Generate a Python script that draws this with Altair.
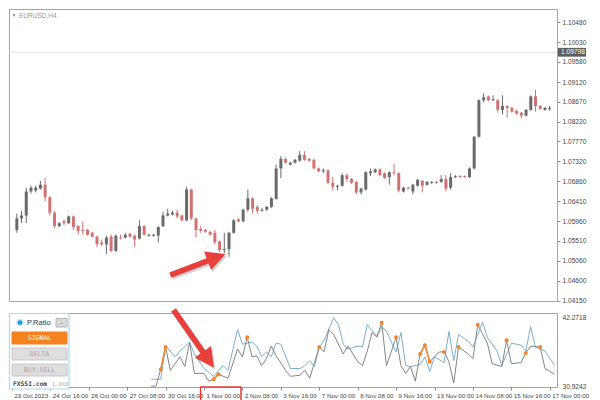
import json
import altair as alt
import pandas as pd

# ---------------- data (EURUSD H4 candles) ----------------
opens = [1.05759, 1.06021, 1.06087, 1.06633, 1.06655, 1.06698, 1.06786, 1.06502, 1.06152, 1.05846,
         1.05956, 1.05912, 1.06065, 1.05846, 1.05759, 1.05759, 1.05694, 1.05606, 1.05475, 1.05432,
         1.05606, 1.05279, 1.05584, 1.05584, 1.05672, 1.05628, 1.05563, 1.05846, 1.05628, 1.05628,
         1.05628, 1.05846, 1.06087, 1.06109, 1.06152, 1.06087, 1.05978, 1.06676, 1.06021, 1.05781,
         1.05759, 1.05715, 1.05694, 1.05497, 1.05300, 1.05322, 1.05694, 1.05999, 1.05956, 1.06218,
         1.06480, 1.06283, 1.06196, 1.06218, 1.06283, 1.06458, 1.07157, 1.07375, 1.07244, 1.07288,
         1.07332, 1.07463, 1.07375, 1.07353, 1.07157, 1.07091, 1.07113, 1.06829, 1.06742, 1.06764,
         1.07004, 1.06917, 1.06851, 1.06611, 1.06676, 1.07048, 1.07070, 1.07135, 1.07048, 1.06960,
         1.07070, 1.07048, 1.06633, 1.06720, 1.06633, 1.06764, 1.06873, 1.06786, 1.06829, 1.06851,
         1.06851, 1.06917, 1.06720, 1.06960, 1.06982, 1.06982, 1.06960, 1.07157, 1.07878, 1.08708,
         1.08795, 1.08708, 1.08708, 1.08489, 1.08576, 1.08533, 1.08467, 1.08424, 1.08358, 1.08489,
         1.08795, 1.08576, 1.08489, 1.08511]
highs = [1.06130, 1.06196, 1.06720, 1.06764, 1.06764, 1.06873, 1.06938, 1.06524, 1.06196, 1.05934,
         1.05999, 1.06087, 1.06087, 1.05868, 1.05956, 1.05781, 1.05715, 1.05628, 1.05541, 1.05628,
         1.05650, 1.05650, 1.05650, 1.05694, 1.05694, 1.05650, 1.05978, 1.05868, 1.05672, 1.05672,
         1.05846, 1.06174, 1.06240, 1.06196, 1.06218, 1.06109, 1.06742, 1.06698, 1.06043, 1.05846,
         1.05781, 1.05737, 1.05759, 1.05519, 1.05694, 1.05715, 1.05999, 1.06021, 1.06240, 1.06676,
         1.06502, 1.06327, 1.06261, 1.06305, 1.06502, 1.07244, 1.07441, 1.07397, 1.07310, 1.07375,
         1.07550, 1.07550, 1.07397, 1.07375, 1.07179, 1.07157, 1.07135, 1.06960, 1.06786, 1.07048,
         1.07048, 1.06938, 1.06873, 1.06720, 1.07091, 1.07157, 1.07157, 1.07157, 1.07070, 1.07091,
         1.07266, 1.07070, 1.06742, 1.06742, 1.06807, 1.06917, 1.06895, 1.06873, 1.06873, 1.06873,
         1.07004, 1.07004, 1.07048, 1.07004, 1.07004, 1.07004, 1.07179, 1.07899, 1.08729, 1.08860,
         1.08817, 1.08817, 1.08729, 1.08817, 1.08598, 1.08555, 1.08489, 1.08445, 1.08511, 1.08817,
         1.08948, 1.08598, 1.08555, 1.08576]
lows = [1.05694, 1.05912, 1.05912, 1.06589, 1.06611, 1.06676, 1.06414, 1.06087, 1.05803, 1.05825,
        1.05868, 1.05890, 1.05759, 1.05650, 1.05650, 1.05628, 1.05584, 1.05366, 1.05388, 1.05213,
        1.05257, 1.05257, 1.05541, 1.05563, 1.05584, 1.05366, 1.05541, 1.05628, 1.05606, 1.05606,
        1.05475, 1.05825, 1.06065, 1.06087, 1.06021, 1.05956, 1.05956, 1.05978, 1.05584, 1.05694,
        1.05694, 1.05628, 1.05432, 1.05257, 1.05235, 1.05148, 1.05672, 1.05934, 1.05934, 1.06174,
        1.06130, 1.06130, 1.06174, 1.06196, 1.06261, 1.06458, 1.06938, 1.07266, 1.07222, 1.07266,
        1.07310, 1.07332, 1.07310, 1.07135, 1.07070, 1.07048, 1.06807, 1.06655, 1.06655, 1.06742,
        1.06851, 1.06807, 1.06567, 1.06567, 1.06655, 1.06982, 1.07048, 1.06982, 1.06917, 1.06786,
        1.07004, 1.06611, 1.06611, 1.06676, 1.06567, 1.06742, 1.06611, 1.06764, 1.06807, 1.06807,
        1.06829, 1.06633, 1.06676, 1.06938, 1.06938, 1.06938, 1.06938, 1.07135, 1.07856, 1.08664,
        1.08686, 1.08686, 1.08424, 1.08380, 1.08314, 1.08424, 1.08380, 1.08293, 1.08336, 1.08467,
        1.08445, 1.08489, 1.08467, 1.08467]
closes = [1.06021, 1.06087, 1.06633, 1.06720, 1.06720, 1.06786, 1.06502, 1.06152, 1.05846, 1.05912,
          1.05912, 1.06065, 1.05825, 1.05737, 1.05737, 1.05650, 1.05606, 1.05432, 1.05432, 1.05584,
          1.05279, 1.05628, 1.05563, 1.05650, 1.05606, 1.05541, 1.05846, 1.05650, 1.05650, 1.05650,
          1.05825, 1.06087, 1.06130, 1.06152, 1.06065, 1.05978, 1.06676, 1.06021, 1.05759, 1.05737,
          1.05715, 1.05650, 1.05475, 1.05300, 1.05322, 1.05694, 1.05978, 1.05956, 1.06218, 1.06480,
          1.06240, 1.06196, 1.06218, 1.06283, 1.06480, 1.07157, 1.07375, 1.07288, 1.07288, 1.07353,
          1.07463, 1.07353, 1.07332, 1.07157, 1.07091, 1.07113, 1.06829, 1.06742, 1.06764, 1.07004,
          1.06917, 1.06829, 1.06611, 1.06698, 1.07070, 1.07091, 1.07135, 1.07004, 1.06938, 1.07070,
          1.07048, 1.06655, 1.06720, 1.06698, 1.06786, 1.06895, 1.06764, 1.06851, 1.06851, 1.06829,
          1.06917, 1.06698, 1.06960, 1.06982, 1.06960, 1.06960, 1.07157, 1.07878, 1.08708, 1.08773,
          1.08708, 1.08729, 1.08489, 1.08576, 1.08533, 1.08445, 1.08402, 1.08358, 1.08489, 1.08795,
          1.08576, 1.08511, 1.08533, 1.08533]

price_ticks = [1.10480, 1.10030, 1.09580, 1.09120, 1.08670, 1.08220, 1.07770, 1.07320,
               1.06860, 1.06410, 1.05960, 1.05510, 1.05060, 1.04600, 1.04150]
current_price = [1.09798]
symbol_label = ["EURUSD,H4"]

time_tick_bars = [0, 8, 16, 24, 32, 40, 48, 56, 64, 72, 80, 88, 96, 104, 112]
time_labels = ["23 Oct 2023", "24 Oct 16:00", "26 Oct 00:00", "27 Oct 08:00", "30 Oct 16:00",
               "1 Nov 00:00", "2 Nov 08:00", "3 Nov 16:00", "7 Nov 00:00", "8 Nov 08:00",
               "9 Nov 16:00", "13 Nov 00:00", "14 Nov 08:00", "15 Nov 16:00", "17 Nov 00:00"]

# P.Ratio indicator (two lines)
blue_bar = [29, 31, 32, 34, 35, 37, 38, 40, 42, 44, 45, 47, 48, 50, 51, 52, 53, 54, 55, 56,
            58, 60, 61, 62, 63, 64, 65, 67, 68, 69, 70, 72, 73, 74, 76, 77, 78, 80, 81, 82,
            83, 85, 86, 87, 88, 90, 91, 92, 93, 95, 96, 98, 99, 101, 102, 104, 106, 107, 108, 109,
            111, 113]
blue_val = [32.06, 32.06, 37.57, 35.79, 36.76, 38.22, 36.27, 33.84, 32.54, 34.33, 33.52, 40.32,
            37.89, 38.22, 37.57, 35.79, 36.60, 35.79, 38.06, 37.89, 33.84, 33.84, 34.33, 35.14,
            34.17, 37.41, 38.54, 42.27, 41.14, 37.89, 37.08, 37.57, 37.41, 41.14, 39.19, 40.81,
            40.00, 36.60, 39.84, 34.33, 34.17, 34.49, 35.79, 33.36, 35.79, 34.81, 40.00, 35.14,
            39.51, 38.38, 37.41, 41.62, 39.03, 36.76, 34.33, 38.06, 37.73, 36.76, 40.81, 37.41,
            36.76, 34.33]
gray_bar = [29, 30, 31, 32, 33, 35, 36, 37, 38, 40, 41, 42, 43, 45, 47, 48, 49, 50, 51, 52,
            53, 54, 55, 57, 58, 60, 61, 62, 64, 65, 66, 67, 69, 70, 72, 73, 74, 75, 76, 77,
            78, 80, 81, 82, 83, 84, 85, 86, 87, 89, 90, 91, 92, 93, 95, 96, 97, 99, 100, 102,
            103, 104, 106, 107, 108, 110, 111, 112, 113]
gray_val = [30.92, 30.92, 33.68, 37.41, 33.52, 35.79, 34.17, 38.22, 33.03, 33.03, 31.73, 32.06,
            32.87, 32.22, 37.08, 35.79, 39.03, 35.79, 35.95, 34.33, 35.46, 37.57, 35.95, 33.52,
            32.54, 32.71, 33.52, 32.22, 37.41, 36.60, 40.32, 39.51, 36.27, 37.57, 34.98, 34.33,
            36.76, 39.84, 39.03, 41.46, 34.33, 39.03, 34.33, 33.03, 34.17, 31.73, 36.27, 37.73,
            34.98, 36.60, 36.60, 34.98, 31.41, 37.41, 36.27, 35.46, 41.14, 38.06, 34.65, 34.17,
            38.54, 34.65, 34.81, 36.43, 37.57, 37.41, 33.84, 33.36, 32.87]
signal_bars = [31, 32, 42, 43, 49, 64, 77, 80, 85, 86, 87, 90, 93, 97, 103, 107, 110]
signal_runs = [[31, 32], [42, 43], [85, 86, 87]]
ind_axis_values = [30.9242, 42.2718]

# annotations (arrow tips in data units, highlighted axis label)
arrow1_tip = {"bar": [44.26], "price": [1.05213]}
arrow2_tip = {"bar": [42.06], "v": [34.0]}
box_label = {"b0": [39.3], "b1": [47.7], "v0": [30.76], "v1": [28.3]}

# ---------------- layout / style ----------------
W, H1, H2 = 548, 292, 74
X_DOMAIN = [-0.6, 113.5]
PRICE_DOMAIN = [1.04143, 1.10782]
IND_DOMAIN = [30.76, 43.08]
BULL, BEAR = "#6a6a6a", "#d07272"
BLUE, GRAY, ORANGE, RED = "#79b0d2", "#858585", "#f2862a", "#e8413b"
FONT = "Liberation Sans"
MONO = "DejaVu Sans Mono"

ARROW1 = "M0,0L-1.2,-0.62L-1.2,-0.18L-3.7,-0.18L-3.7,0.18L-1.2,0.18L-1.2,0.62Z"
ARROW2 = "M0,0L-1.2,-0.62L-1.2,-0.18L-4.4,-0.18L-4.4,0.18L-1.2,0.18L-1.2,0.62Z"

xscale = alt.Scale(domain=X_DOMAIN, nice=False, zero=False)
pscale = alt.Scale(domain=PRICE_DOMAIN, nice=False, zero=False)
iscale = alt.Scale(domain=IND_DOMAIN, nice=False, zero=False)

bars = pd.DataFrame({"bar": list(range(len(opens))), "open": opens, "high": highs,
                     "low": lows, "close": closes})
bars["dir"] = ["up" if c >= o else "down" for o, c in zip(opens, closes)]
color = alt.Color("dir:N", scale=alt.Scale(domain=["up", "down"], range=[BULL, BEAR]), legend=None)

price_axis = alt.Axis(orient="right", values=price_ticks, format=".5f", title=None, grid=False,
                      domain=False, tickSize=3, tickColor="#888", labelFont=FONT, labelFontSize=6.6,
                      labelColor="#444", labelPadding=2, labelOverlap=False)

X_MAIN = alt.X("bar:Q", scale=xscale, axis=None)

cp_df = pd.DataFrame({"p": current_price})
cp_line = alt.Chart(cp_df).mark_rule(color="#e2e2e2", strokeWidth=1).encode(
    y=alt.Y("p:Q", scale=pscale, axis=price_axis))
wicks = alt.Chart(bars).mark_rule(strokeWidth=1).encode(
    x=X_MAIN, y=alt.Y("low:Q", scale=pscale, axis=price_axis), y2="high:Q", color=color)
bodies = alt.Chart(bars).mark_bar(size=3).encode(
    x=X_MAIN, y=alt.Y("open:Q", scale=pscale, axis=price_axis), y2="close:Q", color=color)
cp_box = alt.Chart(cp_df).transform_calculate(lo="datum.p - 0.001", hi="datum.p + 0.001").mark_rect(
    color="#5f5f5f").encode(x=alt.value(W + 1), x2=alt.value(W + 29),
                            y=alt.Y("lo:Q", scale=pscale, axis=price_axis), y2="hi:Q")
cp_text = alt.Chart(cp_df).mark_text(align="left", baseline="middle", font=FONT, fontSize=6.6,
                                     color="white").encode(
    x=alt.value(W + 4), y=alt.Y("p:Q", scale=pscale, axis=price_axis),
    text=alt.Text("p:Q", format=".5f"))
sym_df = pd.DataFrame({"t": symbol_label})
sym_tri = alt.Chart(sym_df).mark_point(shape="triangle-down", filled=True, size=10, color="#888",
                                       opacity=1).encode(x=alt.value(5), y=alt.value(6.5))
sym_text = alt.Chart(sym_df).mark_text(align="left", baseline="middle", font=FONT, fontSize=6.5,
                                       color="#999").encode(x=alt.value(10), y=alt.value(6.5),
                                                            text="t:N")
a1_df = pd.DataFrame(arrow1_tip)
arrow1_shadow = alt.Chart(a1_df).mark_point(
    shape=ARROW1, angle=339, size=1024, filled=True, color="#000000", opacity=0.18, strokeWidth=0,
    xOffset=1.5, yOffset=2).encode(x=X_MAIN, y=alt.Y("price:Q", scale=pscale, axis=price_axis))
arrow1 = alt.Chart(a1_df).mark_point(
    shape=ARROW1, angle=339, size=1024, filled=True, color=RED, opacity=1, strokeWidth=0).encode(
    x=X_MAIN, y=alt.Y("price:Q", scale=pscale, axis=price_axis))

main = alt.layer(cp_line, wicks, bodies, cp_box, cp_text, sym_tri, sym_text,
                 arrow1_shadow, arrow1).properties(width=W, height=H1)

# ---------------- indicator pane ----------------
label_expr = "%s[indexof(%s, datum.value)]" % (json.dumps(time_labels), json.dumps(time_tick_bars))
time_axis = alt.Axis(values=time_tick_bars, labelExpr=label_expr, labelAlign="left", labelOffset=2,
                     tickSize=3, tickColor="#888", domain=False, grid=False, title=None,
                     labelFont=FONT, labelFontSize=6.2, labelColor="#444", labelPadding=2,
                     labelOverlap=False, labelFlush=False, labelSeparation=0)
ind_axis = alt.Axis(orient="right", values=ind_axis_values, format=".4f", title=None, grid=False,
                    domain=False, ticks=False, labelFont=FONT, labelFontSize=6.6,
                    labelColor="#444", labelPadding=5, labelOverlap=False)

blue_df = pd.DataFrame({"bar": blue_bar, "v": blue_val})
gray_df = pd.DataFrame({"bar": gray_bar, "v": gray_val})
gray_lookup = dict(zip(gray_bar, gray_val))
sig_df = pd.DataFrame({"bar": signal_bars, "v": [gray_lookup[b] for b in signal_bars]})
run_rows = []
for k, run in enumerate(signal_runs):
    for b in run:
        run_rows.append({"run": k, "bar": b, "v": gray_lookup[b]})
run_df = pd.DataFrame(run_rows)

X_IND = alt.X("bar:Q", scale=xscale, axis=time_axis)
Y_IND = alt.Y("v:Q", scale=iscale, axis=ind_axis)

blue_line = alt.Chart(blue_df).mark_line(color=BLUE, strokeWidth=1).encode(x=X_IND, y=Y_IND)
gray_line = alt.Chart(gray_df).mark_line(color=GRAY, strokeWidth=1).encode(x=X_IND, y=Y_IND)
runs = alt.Chart(run_df).mark_line(color=ORANGE, strokeWidth=1.6).encode(
    x=X_IND, y=Y_IND, detail="run:N")
dots = alt.Chart(sig_df).mark_circle(color=ORANGE, size=16, opacity=1).encode(x=X_IND, y=Y_IND)

one = pd.DataFrame({"k": [0]})


def ui_rect(x0, x1, y0, y1, fill, stroke, sw=1):
    return alt.Chart(one).mark_rect(fill=fill, stroke=stroke, strokeWidth=sw).encode(
        x=alt.value(x0), x2=alt.value(x1), y=alt.value(y0), y2=alt.value(y1))


def ui_text(x, y, txt, size, col, font=FONT, weight="normal", align="left"):
    return alt.Chart(pd.DataFrame({"t": [txt]})).mark_text(
        align=align, baseline="middle", font=font, fontSize=size, color=col,
        fontWeight=weight).encode(x=alt.value(x), y=alt.value(y), text="t:N")


panel = [
    ui_rect(0.5, 60, 0.5, 76, "white", "#a9daee", 1.2),
    alt.Chart(one).mark_circle(size=38, color="#1f9bd8", opacity=1, stroke="#bfe7f7",
                               strokeWidth=1.5).encode(x=alt.value(11), y=alt.value(9.5)),
    ui_text(18, 9.8, "P.Ratio", 7.5, "#333"),
    ui_rect(47, 58, 5.5, 14, "#dadada", "#b4b4b4"),
    ui_text(52.5, 10, "–", 6, "#666", align="center"),
    ui_rect(3, 58, 19, 31, "#f5821f", "#f5821f"),
    ui_text(30.5, 25.2, "SIGNAL", 6.5, "white", font=MONO, align="center"),
    ui_rect(3, 58, 35, 47, "#dedede", "#c9c9c9"),
    ui_text(30.5, 41.2, "DELTA", 6.5, "#a8a8a8", font=MONO, align="center"),
    ui_rect(3, 58, 51, 63, "#dedede", "#c9c9c9"),
    ui_text(30.5, 57.2, "BUY:SELL", 6.5, "#a8a8a8", font=MONO, align="center"),
    ui_text(4, 70.5, "FXSSI.com", 6.3, "#444", font=MONO, weight="bold"),
    ui_text(43, 70.5, "1.088", 5.5, "#aaa", font=MONO),
]

a2_df = pd.DataFrame(arrow2_tip)
arrow2_shadow = alt.Chart(a2_df).mark_point(
    shape=ARROW2, angle=55, size=1024, filled=True, color="#000000", opacity=0.18, strokeWidth=0,
    xOffset=1.5, yOffset=2).encode(x=X_IND, y=Y_IND)
arrow2 = alt.Chart(a2_df).mark_point(
    shape=ARROW2, angle=55, size=1024, filled=True, color=RED, opacity=1, strokeWidth=0).encode(
    x=X_IND, y=Y_IND)
red_box = alt.Chart(pd.DataFrame(box_label)).mark_rect(
    stroke="#e33b36", strokeWidth=1.5, fillOpacity=0).encode(
    x=alt.X("b0:Q", scale=xscale, axis=time_axis), x2="b1:Q",
    y=alt.Y("v0:Q", scale=iscale, axis=ind_axis), y2="v1:Q")

ind = alt.layer(blue_line, gray_line, runs, dots, *panel, arrow2_shadow, arrow2,
                red_box).properties(width=W, height=H2)

chart = alt.vconcat(main, ind, spacing=2).properties(
    padding=0, background="white").configure_view(
    stroke="#a4a4a4", strokeWidth=1).configure_axis(labelOverlap=False)

chart.save("out.html", embed_options={"renderer": "svg", "actions": False})
